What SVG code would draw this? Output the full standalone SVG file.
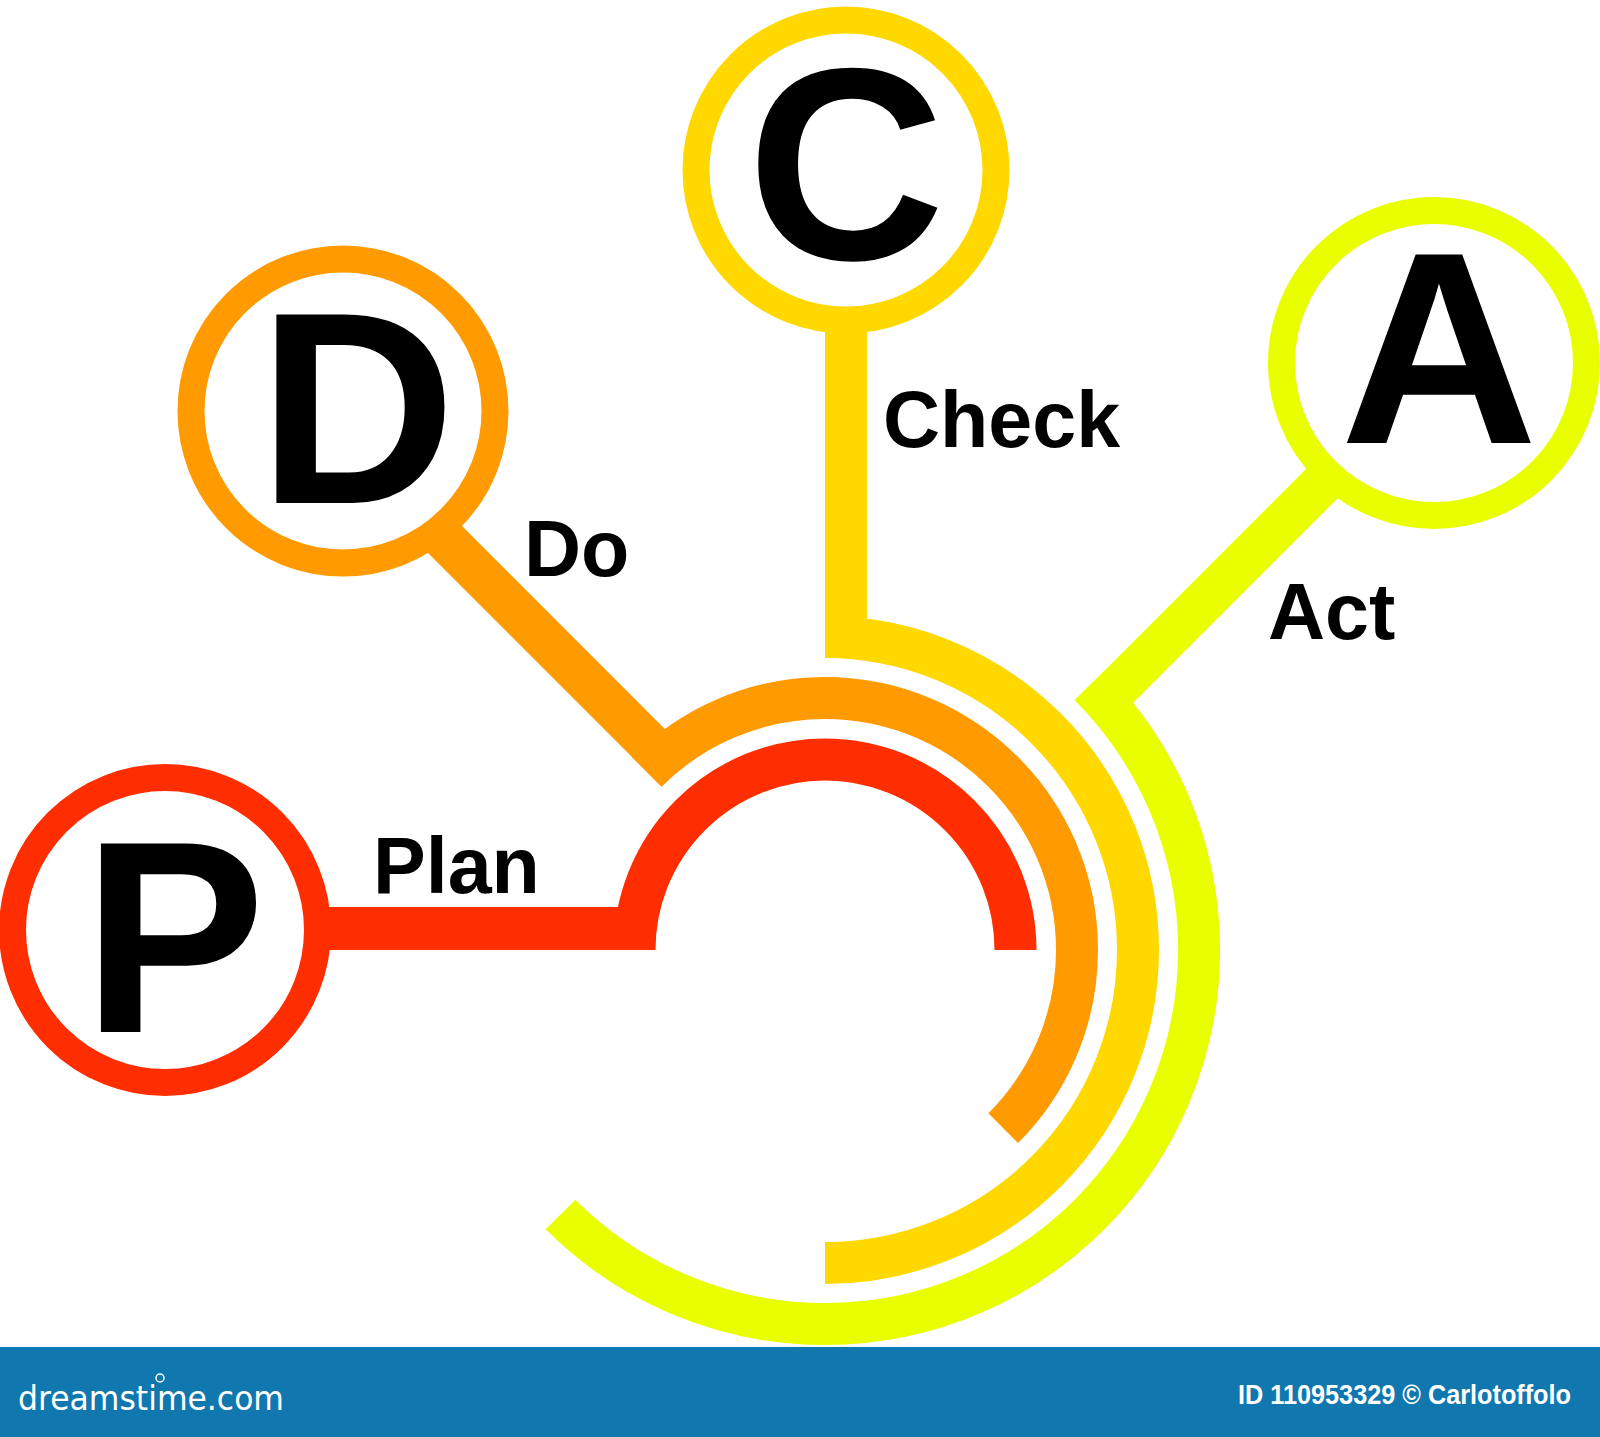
<svg xmlns="http://www.w3.org/2000/svg" width="1600" height="1437" viewBox="0 0 1600 1437">
<style>
.ring{fill:#ffffff;stroke-width:27}
.arc{fill:none;stroke-width:42}
.big{font-family:"Liberation Sans",Arial,sans-serif;font-weight:bold;font-size:274px;fill:#000;text-anchor:middle}
.lbl{font-family:"Liberation Sans",Arial,sans-serif;font-weight:bold;font-size:79px;fill:#000}
.red{stroke:#FF2E00}.redf{fill:#FF2E00}
.org{stroke:#FF9A00}.orgf{fill:#FF9A00}
.gld{stroke:#FFD800}.gldf{fill:#FFD800}
.lim{stroke:#E9FF00}.limf{fill:#E9FF00}
</style>
<rect x="0" y="0" width="1600" height="1437" fill="#ffffff"/>
<g id="connectors">
  <polygon class="redf" points="290,907 618,907 655.5,950 290,950"/>
  <path class="arc red" d="M634.5 950 A190.5 190.5 0 0 1 825 759.5 A190.5 190.5 0 0 1 1015.5 950"/>
  <polygon class="orgf" points="420,484 664.9,728.9 661.7,786.7 390,515"/>
  <path class="arc org" d="M646.8 771.8 A252 252 0 0 1 1003.2 771.8 A252 252 0 0 1 1003.2 1128.2"/>
  <polygon class="gldf" points="825,300 867,300 867,618.6 825,658"/>
  <path class="arc gld" d="M825 637 A313 313 0 0 1 1138 950 A313 313 0 0 1 825 1263"/>
  <polygon class="limf" points="1074.6,700.4 1340,435 1370,466 1133.1,702.9"/>
  <path class="arc lim" d="M1089.5 685.5 A374 374 0 0 1 1089.5 1214.5 A374 374 0 0 1 560.5 1214.5"/>
</g>
<g id="node-P">
  <circle class="ring red" cx="165" cy="930" r="152.5"/>
  <text class="big" x="174" y="1032">P</text>
  <text class="lbl" x="373" y="893">Plan</text>
</g>
<g id="node-D">
  <circle class="ring org" cx="343" cy="411" r="152"/>
  <text class="big" x="357" y="503">D</text>
  <text class="lbl" x="524" y="576">Do</text>
</g>
<g id="node-C">
  <circle class="ring gld" cx="846" cy="170" r="150"/>
  <text class="big" x="846" y="259">C</text>
  <text class="lbl" x="883" y="447">Check</text>
</g>
<g id="node-A">
  <circle class="ring lim" cx="1434" cy="363" r="152.5"/>
  <text class="big" x="1439" y="443">A</text>
  <text class="lbl" x="1268" y="639">Act</text>
</g>
<g id="footer">
  <rect x="0" y="1347" width="1600" height="90" fill="#1177AF"/>
  <text x="18" y="1410" font-family="DejaVu Sans, sans-serif" font-size="34" fill="#ffffff" textLength="266" lengthAdjust="spacingAndGlyphs">dreamstime.com</text>
  <circle cx="160" cy="1378" r="4" fill="none" stroke="#ffffff" stroke-width="1.5"/>
  <text x="1238" y="1404" font-family="Liberation Sans, Arial, sans-serif" font-weight="bold" font-size="27" fill="#ffffff" textLength="333" lengthAdjust="spacingAndGlyphs">ID 110953329 © Carlotoffolo</text>
</g>
</svg>
